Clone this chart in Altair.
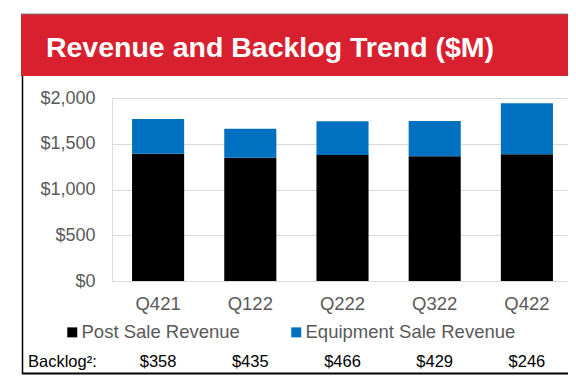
import altair as alt
import pandas as pd

quarters = ["Q421", "Q122", "Q222", "Q322", "Q422"]
post_sale = [1391, 1348, 1377, 1363, 1385]
equipment_sale = [379, 317, 368, 386, 557]
backlog = ["$358", "$435", "$466", "$429", "$246"]
series_names = ["Post Sale Revenue", "Equipment Sale Revenue"]
series_colors = ["#000000", "#0070C0"]
title_text = "Revenue and Backlog Trend ($M)"
backlog_label = "Backlog\u00b2:"
y_ticks = [0, 500, 1000, 1500, 2000]

rows = []
for q, p, e in zip(quarters, post_sale, equipment_sale):
    rows.append({"quarter": q, "series": series_names[0], "value": p, "ord": 0})
    rows.append({"quarter": q, "series": series_names[1], "value": e, "ord": 1})
df = pd.DataFrame(rows)
df_backlog = pd.DataFrame({"quarter": quarters, "backlog": backlog})
one = pd.DataFrame({"t": [title_text]})
lab = pd.DataFrame({"t": [backlog_label]})

FONT = "Liberation Sans"
W, H = 456, 183

xscale = alt.Scale(domain=quarters, range=[0, 461], paddingInner=0.435, paddingOuter=0.2175)

banner = alt.Chart(one).mark_rect(color="#D9202F").encode(
    x=alt.value(-91), x2=alt.value(460), y=alt.value(-84), y2=alt.value(-22)
)
banner_top = alt.Chart(one).mark_rule(color="#7f7f7f", strokeWidth=1).encode(
    x=alt.value(-91), x2=alt.value(460), y=alt.value(-84)
)
title = alt.Chart(one).mark_text(
    font=FONT, fontSize=28.5, fontWeight="bold", color="white",
    align="center", baseline="alphabetic"
).encode(text="t:N", x=alt.value(158), y=alt.value(-41))

left_border = alt.Chart(one).mark_rule(color="#000000", strokeWidth=1.5).encode(
    x=alt.value(-89.5), y=alt.value(-22), y2=alt.value(276)
)
bottom_border = alt.Chart(one).mark_rule(color="#000000", strokeWidth=2).encode(
    x=alt.value(-90), x2=alt.value(460), y=alt.value(275.5)
)

bars = alt.Chart(df).mark_bar().encode(
    x=alt.X("quarter:N", scale=xscale, sort=quarters, title=None,
            axis=alt.Axis(labelAngle=0, labelFontSize=18.5, labelColor="#595959",
                          labelFont=FONT, ticks=False, domain=True,
                          domainColor="#d9d9d9", domainWidth=1.2, labelPadding=13)),
    y=alt.Y("value:Q", stack="zero", title=None,
            scale=alt.Scale(domain=[0, 2000], nice=False),
            axis=alt.Axis(values=y_ticks, format="$,.0f", labelFontSize=18,
                          labelColor="#595959", labelFont=FONT, ticks=False,
                          domain=False, gridColor="#d9d9d9", gridWidth=1.2,
                          labelPadding=17)),
    color=alt.Color("series:N",
                    scale=alt.Scale(domain=series_names, range=series_colors),
                    legend=alt.Legend(title=None, orient="none", legendX=-49,
                                      legendY=225, direction="horizontal",
                                      symbolType="square", symbolSize=100,
                                      symbolStrokeWidth=0, labelFontSize=18.5,
                                      labelColor="#595959", labelFont=FONT,
                                      labelLimit=400, labelOffset=0,
                                      columnPadding=47)),
    order=alt.Order("ord:Q", sort="ascending"),
)

backlog_text = alt.Chart(df_backlog).mark_text(
    font=FONT, fontSize=16.5, color="#000000", baseline="middle"
).encode(
    x=alt.X("quarter:N", scale=xscale, sort=quarters),
    y=alt.value(263.5),
    text="backlog:N",
)
backlog_lbl = alt.Chart(lab).mark_text(
    font=FONT, fontSize=16.5, color="#000000", baseline="middle", align="left"
).encode(text="t:N", x=alt.value(-84), y=alt.value(263.5))

chart = alt.layer(
    banner, banner_top, title, left_border, bottom_border, bars,
    backlog_text, backlog_lbl
).properties(
    width=W, height=H,
    autosize=alt.AutoSizeParams(type="none"),
    padding={"left": 104, "top": 90, "right": 0, "bottom": 94},
).configure_view(stroke=None).configure(font=FONT)

chart.save("out.html", embed_options={"renderer": "svg", "actions": False})
